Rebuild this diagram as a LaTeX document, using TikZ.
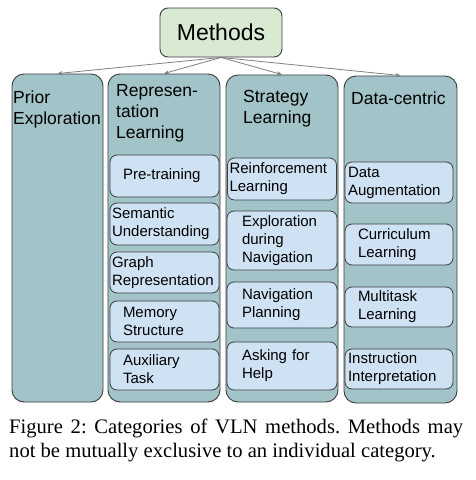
\documentclass[tikz,border=0pt]{standalone}
\usepackage{fontspec}
\setmainfont{Liberation Sans}
\newfontfamily\capfont{Liberation Serif}
\usetikzlibrary{arrows.meta}
\definecolor{colfill}{HTML}{A2C4C9}
\definecolor{subfill}{HTML}{CFE2F3}
\definecolor{rootfill}{HTML}{D9EAD3}
\definecolor{edgegray}{HTML}{3C3C3C}
\definecolor{arrowgray}{HTML}{7F7F7F}
\tikzset{
  col/.style={draw=edgegray, fill=colfill, rounded corners=12pt, line width=0.9pt, inner sep=0pt},
  sub/.style={draw=edgegray, fill=subfill, rounded corners=7pt, line width=0.8pt, inner xsep=2pt, inner ysep=0pt, text width=105pt, align=left, font=\fontsize{15}{18}\selectfont},
  subin/.style={sub, inner xsep=13pt, text width=83pt},
  coltitle/.style={anchor=north west, inner sep=0pt, align=left, font=\fontsize{17.5}{21}\selectfont},
  branch/.style={draw=arrowgray, line width=0.8pt, -{Stealth[length=5pt,width=4pt]}}
}
\frenchspacing

\begin{document}
\begin{tikzpicture}[x=1pt,y=-1pt]
\useasboundingbox (0,0) rectangle (475,480);

\node[draw=edgegray, fill=rootfill, rounded corners=8pt, line width=0.9pt, minimum width=122pt, minimum height=49pt, font=\fontsize{23}{27}\selectfont] (methods) at (221,32.5) {Methods};

\node[col, minimum width=91pt, minimum height=328pt] (prior) at (57.5,238) {};
\node[col, minimum width=112pt, minimum height=328pt] (repr) at (164,238) {};
\node[col, minimum width=112pt, minimum height=327pt] (strategy) at (282,238.5) {};
\node[col, minimum width=113pt, minimum height=327pt] (data) at (400.5,239.5) {};

\draw[branch] (methods.south) -- (prior.north); \draw[branch] (methods.south) -- (repr.north);
\draw[branch] (methods.south) -- (strategy.north); \draw[branch] (methods.south) -- (data.north);

\node[coltitle] (priortitle) at (13,90.5) {Prior\\Exploration};
\node[coltitle] (reprtitle) at (116,84.3) {Represen-\\tation\\Learning};
\node[coltitle] (strategytitle) at (243,90) {Strategy\\Learning};
\node[coltitle] (datatitle) at (351,91.3) {Data-centric};

\node[subin, minimum height=42pt] (pretrain) at (164.5,176) {Pre-training};
\node[sub, minimum height=42pt] (semantic) at (164.5,224) {Semantic\\Understanding};
\node[sub, minimum height=41pt] (graph) at (164.5,272.5) {Graph\\Representation};
\node[subin, minimum height=41pt] (memory) at (164.5,321.5) {Memory\\Structure};
\node[subin, minimum height=41pt] (auxiliary) at (164.5,369.5) {Auxiliary\\Task};

\node[sub, minimum height=42pt] (reinforce) at (282,179) {Reinforcement\\Learning};
\node[subin, minimum height=59pt, inner xsep=15pt, text width=80pt] (explore) at (282,240.5) {Exploration\\during\\Navigation};
\node[subin, minimum height=46pt, inner xsep=15pt, text width=80pt] (navplan) at (282,305) {Navigation\\Planning};
\node[subin, minimum height=48pt, inner xsep=15pt, text width=80pt] (asking) at (282,366) {Asking for\\Help};

\node[sub, minimum height=41pt, inner xsep=3pt, text width=102pt] (augment) at (399,182.5) {Data\\Augmentation};
\node[subin, minimum height=41pt, text width=82pt] (curriculum) at (399,244.5) {Curriculum\\Learning};
\node[subin, minimum height=40pt, text width=82pt] (multitask) at (399,307) {Multitask\\Learning};
\node[sub, minimum height=40pt, inner xsep=3pt, text width=102pt] (instruct) at (399,369) {Instruction\\Interpretation};

\node[anchor=north west, inner sep=0pt, align=left, font=\capfont\fontsize{20.6}{24}\selectfont] (caption) at (9,419) {\makebox[454pt][s]{Figure 2: Categories of VLN methods. Methods may}\\not be mutually exclusive to an individual category.};
\end{tikzpicture}
\end{document}
